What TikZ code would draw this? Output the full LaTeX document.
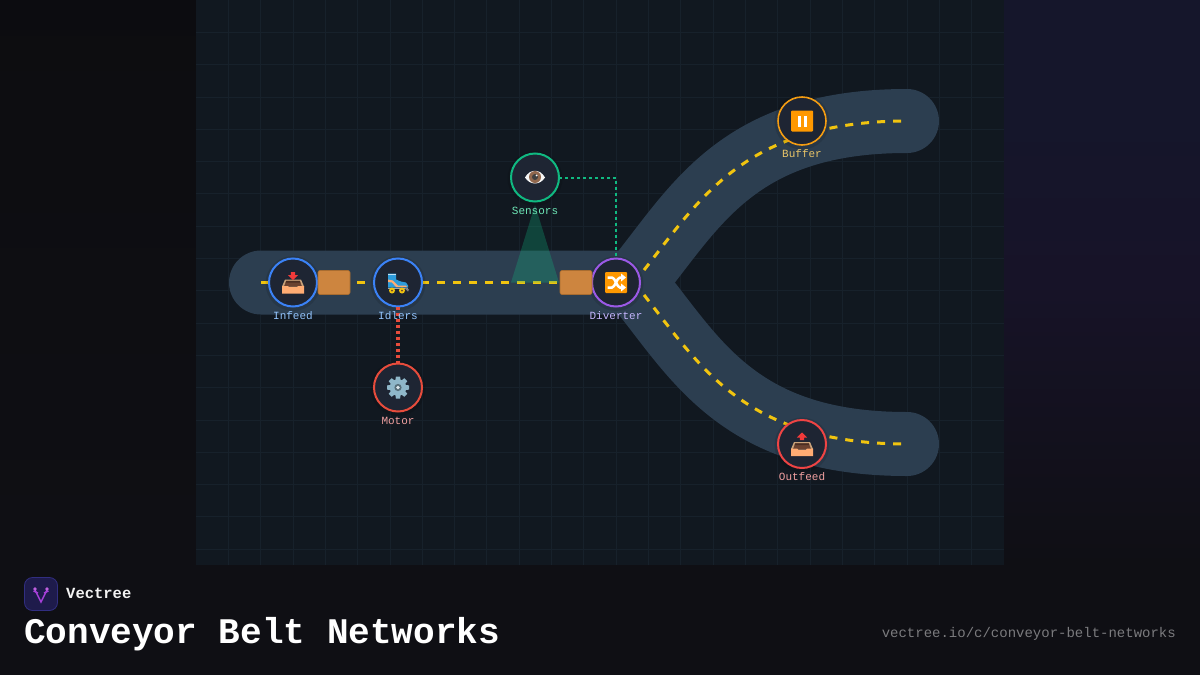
\documentclass[tikz,border=0pt]{standalone}
\usepackage{fontspec}
\setmainfont{Liberation Mono}
\usetikzlibrary{calc}
\definecolor{beltc}{HTML}{2C3E50}
\definecolor{yel}{HTML}{F1C40F}
\definecolor{panelc}{HTML}{111820}
\definecolor{gridc}{HTML}{17212B}
\definecolor{stat}{HTML}{1E2533}
\definecolor{boxc}{HTML}{CD853F}
\definecolor{boxe}{HTML}{A86C30}
\definecolor{bluec}{HTML}{3B82F6}
\definecolor{redc}{HTML}{E74C3C}
\definecolor{redb}{HTML}{EF4444}
\definecolor{greenc}{HTML}{10B981}
\definecolor{purc}{HTML}{9B59E6}
\definecolor{orac}{HTML}{F39C12}
\definecolor{lblue}{HTML}{93C5FD}
\definecolor{lred}{HTML}{F1A0A0}
\definecolor{lgreen}{HTML}{6EE7B7}
\definecolor{lpur}{HTML}{C4B5FD}
\definecolor{lora}{HTML}{E8C468}
\definecolor{trayf}{HTML}{FFAC73}
\definecolor{trayr}{HTML}{C9A27A}
\definecolor{trayi}{HTML}{6B4230}
\definecolor{emred}{HTML}{F03A3A}
\definecolor{emora}{HTML}{FF9800}
\definecolor{gearc}{HTML}{8FB7C9}
\definecolor{skate}{HTML}{2D9CDB}
\definecolor{ra}{HTML}{0F0F14}
\definecolor{rb}{HTML}{171328}
\definecolor{rc}{HTML}{15162B}
\pgfdeclareverticalshading{rightbgb}{100bp}{color(0bp)=(ra);color(25bp)=(ra);color(50bp)=(rb);color(65bp)=(rc);color(100bp)=(rc)}
\definecolor{la}{HTML}{0B0B0E}
\definecolor{lb}{HTML}{0F0F14}
\definecolor{logof}{HTML}{1E1B4B}
\definecolor{logoe}{HTML}{312E81}
\definecolor{logol}{HTML}{A53FD8}
\definecolor{logod}{HTML}{C060E0}
\pgfdeclareverticalshading{leftbg}{100bp}{color(0bp)=(lb);color(25bp)=(lb);color(100bp)=(la)}
\tikzset{
  x=1pt,y=-1pt,
  station/.style={circle,minimum size=48pt,inner sep=0pt,outer sep=0pt,fill=stat,line width=2pt},
  lab/.style={font=\fontsize{11}{13}\selectfont,inner sep=0pt,anchor=center},
  parcel/.style={rectangle,rounded corners=2pt,minimum width=32pt,minimum height=24pt,inner sep=0pt,outer sep=0pt,fill=boxc,draw=boxe,line width=.6pt},
  beltline/.style={line width=64pt,color=beltc,line cap=round,line join=round},
  centre/.style={line width=3pt,color=yel,dash pattern=on 8pt off 8pt},
  wire/.style={line width=2pt,color=greenc,dash pattern=on 3pt off 3pt},
  drive/.style={line width=3.5pt,color=redc,dash pattern=on 3pt off 3pt}
}
\newcommand{\traybody}{%
  \fill[trayr] (-8,-3) -- (8,-3) -- (11,4) -- (-11,4) -- cycle;
  \fill[trayi] (-6.8,-1.6) -- (6.8,-1.6) -- (9,4) -- (-9,4) -- cycle;
  \fill[trayi!70!black] (-6.8,-1.6) -- (6.8,-1.6) -- (7.4,0) -- (-7.4,0) -- cycle;
  \fill[trayf] (-11,3.5) -- (-5,3.5) -- (-4,4.5) -- (4,4.5) -- (5,3.5) -- (11,3.5) -- (11,11) -- (-11,11) -- cycle;
}
\begin{document}
\begin{tikzpicture}
\useasboundingbox (0,0) rectangle (1200,675);
% backgrounds
\fill[lb] (0,0) rectangle (1200,675);
\shade[shading=leftbg] (0,0) rectangle (196,565);
\shade[shading=rightbgb] (1004,0) rectangle (1200,565);
\fill[panelc] (196,0) rectangle (1004,565);
\foreach \k in {1,...,24}{\draw[gridc,line width=.8pt] ({196+32.32*\k},0) -- ({196+32.32*\k},565);}
\foreach \k in {1,...,17}{\draw[gridc,line width=.8pt] (196,{32.3*\k}) -- (1004,{32.3*\k});}
% belts
\coordinate (start) at (261,282.5);
\coordinate (fork) at (634,282.5);
\coordinate (endup) at (907,121);
\coordinate (enddn) at (907,444);
\draw[beltline] (start) -- (fork) .. controls (694,210) and (735,121) .. (endup);
\draw[beltline] (fork) .. controls (694,355) and (735,444) .. (enddn);
\draw[centre] (start) -- (fork);
\draw[centre] (fork) .. controls (694,210) and (735,121) .. (endup);
\draw[centre] (fork) .. controls (694,355) and (735,444) .. (enddn);
% station shadows
\foreach \sx/\sy in {293/282.5,398/282.5,398/387.5,535/177.5,616/282.5,802/121,802/444}{
  \fill[black,opacity=.10] (\sx,\sy+1) circle (27.5);
}
% stations
\node[station,draw=bluec] (infeed) at (293,282.5) {};
\node[station,draw=bluec] (idlers) at (398,282.5) {};
\node[station,draw=redc] (motor) at (398,387.5) {};
\node[station,draw=greenc] (sensors) at (535,177.5) {};
\node[station,draw=purc] (diverter) at (616,282.5) {};
\node[station,draw=orac,line width=1.6pt] (buffer) at (802,121) {};
\node[station,draw=redb] (outfeed) at (802,444) {};
% sensor cone
\fill[greenc,opacity=.28] (535,205) -- (559,282.5) -- (511,282.5) -- cycle;
% connectors
\draw[drive] (idlers) -- (motor);
\draw[wire] (sensors.east) -| (diverter.north);
% parcels
\node[parcel] (boxa) at (334,282.5) {};
\node[parcel] (boxb) at (576,282.5) {};
% icons: inbox
\begin{scope}[shift={(infeed.center)}]
  \traybody
  \fill[emred] (-2.2,-10.5) -- (2.2,-10.5) -- (2.2,-7.5) -- (5.2,-7.5) -- (0,-2.5) -- (-5.2,-7.5) -- (-2.2,-7.5) -- cycle;
\end{scope}
% icons: outbox
\begin{scope}[shift={(outfeed.center)}]
  \begin{scope}[yshift=-1pt]\traybody\end{scope}
  \fill[emred] (-2.2,-4) -- (2.2,-4) -- (2.2,-6.5) -- (5.2,-6.5) -- (0,-11.5) -- (-5.2,-6.5) -- (-2.2,-6.5) -- cycle;
\end{scope}
% icons: skate
\begin{scope}[shift={(idlers.center)}]
  \fill[skate] (-10,-9) -- (-2,-9) -- (-2,-3) -- (3,-1) -- (8,0) -- (10,3) -- (10,5) -- (-10,5) -- cycle;
  \fill[trayf] (-10,-3) -- (-5,-2) -- (0,3) -- (8,3.2) -- (9,4.5) -- (-2,4.5) -- (-6,0) -- (-10,-.5) -- cycle;
  \fill[white!70!skate] (-10,-9) rectangle (-2,-7.5);
  \fill[gray!70] (-10,5) rectangle (10,6.2);
  \fill[gray] (8,5) -- (11,7) -- (10,9) -- (7,6) -- cycle;
  \foreach \wx in {-6,4}{
    \fill[yel] (\wx,8) circle (3);
    \fill[trayi] (\wx,8) circle (1);
  }
\end{scope}
% icons: gear
\begin{scope}[shift={(motor.center)}]
  \fill[gearc] (0,0) circle (8.3);
  \foreach \ga in {0,45,...,315}{
    \begin{scope}[rotate=\ga]
      \fill[gearc] (-2.6,-7) -- (2.6,-7) -- (2.1,-11) -- (-2.1,-11) -- cycle;
    \end{scope}
  }
  \fill[gearc!60!black] (0,0) circle (3.6);
  \fill[gearc!30!white] (0,0) circle (1.8);
\end{scope}
% icons: eye
\begin{scope}[shift={(sensors.center)}]
  \fill[white!92!gray] (-10,0) .. controls (-5,-9) and (5,-9) .. (10,0) .. controls (5,8) and (-5,8) .. (-10,0) -- cycle;
  \fill[trayi!60!trayr] (0,-.5) circle (6);
  \fill[black!75] (0,-.5) circle (3);
  \fill[white] (1.6,-2) circle (.9);
\end{scope}
% icons: shuffle
\begin{scope}[shift={(diverter.center)}]
  \fill[emora,rounded corners=1pt] (-11,-10.5) rectangle (11,10.5);
  \draw[white,line width=2.5pt] (-8.5,-5) -- (-4,-5) .. controls (-1,-5) and (1,5) .. (4,5) -- (6,5);
  \draw[white,line width=2.5pt] (-8.5,5) -- (-4,5) .. controls (-1,5) and (1,-5) .. (4,-5) -- (6,-5);
  \fill[white] (5,-9) -- (10,-5) -- (5,-1) -- cycle;
  \fill[white] (5,1) -- (10,5) -- (5,9) -- cycle;
\end{scope}
% icons: pause
\begin{scope}[shift={(buffer.center)}]
  \fill[emora,rounded corners=1pt] (-11,-10.5) rectangle (11,10.5);
  \fill[white] (-3.8,-5.5) rectangle (-.7,5.5);
  \fill[white] (1.5,-5.5) rectangle (4.6,5.5);
\end{scope}
% labels
\node[lab,text=lblue] (linfeed) at (293,316) {Infeed};
\node[lab,text=lblue] (lidlers) at (398,316) {Idlers};
\node[lab,text=lred] (lmotor) at (398,421) {Motor};
\node[lab,text=lgreen] (lsensors) at (535,211) {Sensors};
\node[lab,text=lpur] (ldiverter) at (616,316) {Diverter};
\node[lab,text=lora] (lbuffer) at (802,154) {Buffer};
\node[lab,text=lred] (loutfeed) at (802,477) {Outfeed};
% logo
\node[rectangle,rounded corners=8pt,minimum width=33pt,minimum height=33pt,inner sep=0pt,fill=logof,draw=logoe,line width=.8pt] (logo) at (41,594) {};
\begin{scope}[shift={(logo.center)}]
  \draw[logol,line width=1.4pt] (-6,-4) -- (0,8) -- (6,-4);
  \draw[logol,line width=1.4pt] (-7.5,-3) -- (-3,-1);
  \draw[logol,line width=1.4pt] (7.5,-3) -- (3,-1);
  \fill[logod] (-6,-5) circle (1.8);
  \fill[logod] (6,-5) circle (1.8);
\end{scope}
% footer text
\node[anchor=west,inner sep=0pt,text=white!90!gray,font=\fontsize{15.5}{18}\selectfont\bfseries] (brand) at (66,593.5) {Vectree};
\node[anchor=west,inner sep=0pt,text=white,font=\fontsize{36.05}{40}\selectfont\bfseries] (title) at (24,634.5) {Conveyor Belt Networks};
\node[anchor=east,inner sep=0pt,text=white!45!lb,font=\fontsize{14}{16}\selectfont] (url) at (1176,634) {vectree.io/c/conveyor-belt-networks};
\end{tikzpicture}
\end{document}
